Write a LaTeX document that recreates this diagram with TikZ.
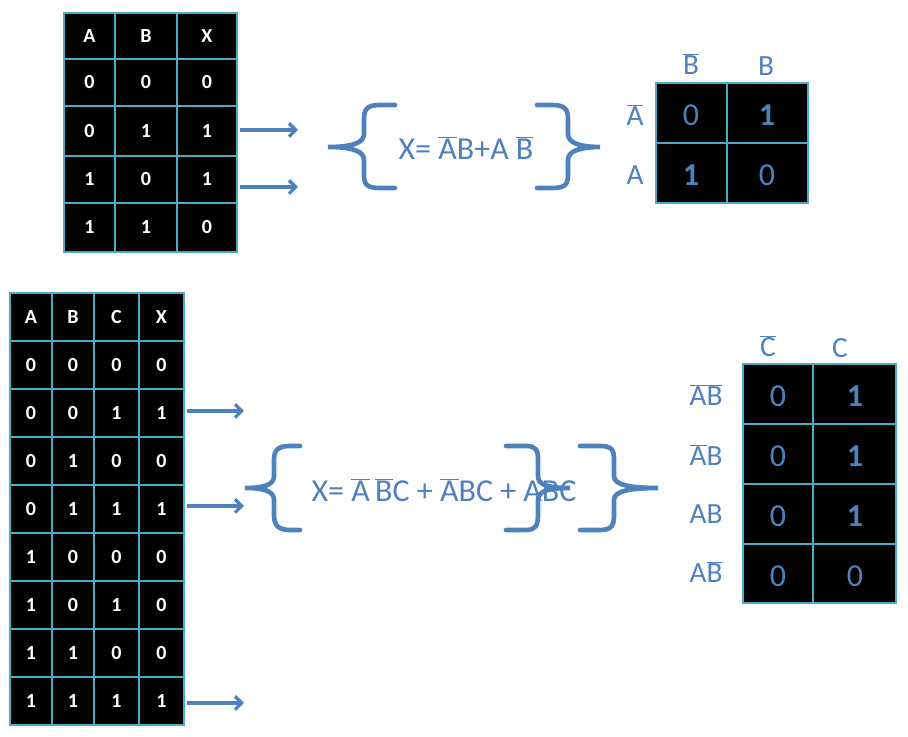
\documentclass[tikz,border=0pt]{standalone}
\usepackage{fontspec}
\setmainfont{Carlito}
\usetikzlibrary{arrows.meta}
\definecolor{bl}{HTML}{4F81BD}
\definecolor{tl}{HTML}{4BACC6}
\newcommand\ob[1]{\ensuremath{\overline{\mbox{#1}}}}
\begin{document}
\begin{tikzpicture}[x=0.75pt,y=-0.75pt,
  cell/.style={draw=tl,line width=1.5pt,fill=black},
  tt/.style={text=white,font=\bfseries\fontsize{15}{15}\selectfont},
  km/.style={text=bl,font=\fontsize{24}{24}\selectfont},
  kb/.style={text=bl,font=\bfseries\fontsize{24}{24}\selectfont},
  lab/.style={text=bl,font=\fontsize{22}{22}\selectfont},
  arr/.style={draw=bl,line width=2.5pt,-{Straight Barb[length=5pt,width=10pt]}},
  brace/.style={draw=bl,line width=3.5pt,line cap=round},
  form/.style={text=bl,font=\fontsize{24}{24}\selectfont}]
\useasboundingbox (0,0) rectangle (908,737);
% top truth table
\def\xs{{64,115,177,237}}
\def\ys{{13,59,106,156,203,252}}
\foreach \r/\a/\b/\c in {0/A/B/X,1/0/0/0,2/0/1/1,3/1/0/1,4/1/1/0}{
  \pgfmathsetmacro\ya{\ys[\r]}\pgfmathsetmacro\yb{\ys[\r+1]}
  \foreach \k/\t in {0/\a,1/\b,2/\c}{
    \pgfmathsetmacro\xa{\xs[\k]}\pgfmathsetmacro\xb{\xs[\k+1]}
    \draw[cell] (\xa,\ya) rectangle (\xb,\yb);
    \node[tt] (t1-\r-\k) at ({(\xa+\xb)/2},{(\ya+\yb)/2}) {\t};
  }}
\coordinate (a1s) at (240,130); \coordinate (a1e) at (298,130);
\coordinate (a2s) at (240,187); \coordinate (a2e) at (298,187);
\draw[arr] (a1s) -- (a1e); \draw[arr] (a2s) -- (a2e);
% top braces
\draw[brace] (395,105) -- (380,105) .. controls (366,105) and (364,110) .. (364,120) -- (364,134) .. controls (364,143) and (352,147) .. (328,147)
  .. controls (352,147) and (364,151) .. (364,160) -- (364,174) .. controls (364,184) and (366,188) .. (380,188) -- (395,188);
\draw[brace] (537,105) -- (552,105) .. controls (566,105) and (568,110) .. (568,120) -- (568,134) .. controls (568,143) and (580,147) .. (600,147)
  .. controls (580,147) and (568,151) .. (568,160) -- (568,174) .. controls (568,184) and (566,188) .. (552,188) -- (537,188);
\node[form] (f1) at (466,148) {X= \ob{A}B+A \ob{B}};
% top kmap
\foreach \i/\xa/\xb in {0/656/727,1/727/808}
  \foreach \j/\ya/\yb in {0/83/143,1/143/203}
    \draw[cell] (\xa,\ya) rectangle (\xb,\yb);
\node[km] (k00) at (691,115) {0}; \node[kb] (k01) at (767,115) {1};
\node[kb] (k10) at (691,175) {1}; \node[km] (k11) at (767,175) {0};
\node[lab] (c0) at (691,64) {\ob{B}}; \node[lab] (c1) at (766,66) {B};
\node[lab] (r0) at (635,115) {\ob{A}}; \node[lab] (r1) at (635,175) {A};
% bottom truth table
\def\xs{{10,52,94,139,184}}
\foreach \r/\a/\b/\c/\d in {0/A/B/C/X,1/0/0/0/0,2/0/0/1/1,3/0/1/0/0,4/0/1/1/1,5/1/0/0/0,6/1/0/1/0,7/1/1/0/0,8/1/1/1/1}{
  \pgfmathsetmacro\ya{293+48*\r}\pgfmathsetmacro\yb{341+48*\r}
  \foreach \k/\t in {0/\a,1/\b,2/\c,3/\d}{
    \pgfmathsetmacro\xa{\xs[\k]}\pgfmathsetmacro\xb{\xs[\k+1]}
    \draw[cell] (\xa,\ya) rectangle (\xb,\yb);
    \node[tt] (t2-\r-\k) at ({(\xa+\xb)/2},{(\ya+\yb)/2}) {\t};
  }}
\coordinate (b1s) at (187,411); \coordinate (b1e) at (244,411);
\coordinate (b2s) at (187,506); \coordinate (b2e) at (244,506);
\coordinate (b3s) at (187,703); \coordinate (b3e) at (244,703);
\draw[arr] (b1s) -- (b1e); \draw[arr] (b2s) -- (b2e); \draw[arr] (b3s) -- (b3e);
% bottom braces
\draw[brace] (300,446) -- (290,446) .. controls (278,446) and (274,450) .. (274,460) -- (274,476) .. controls (274,485) and (264,488) .. (245,488)
  .. controls (264,488) and (274,491) .. (274,500) -- (274,515) .. controls (274,525) and (278,530) .. (290,530) -- (300,530);
\draw[brace] (506,446) -- (526,446) .. controls (536,446) and (538,450) .. (538,460) -- (538,476) .. controls (538,485) and (548,488) .. (570,488)
  .. controls (548,488) and (538,491) .. (538,500) -- (538,515) .. controls (538,525) and (536,530) .. (526,530) -- (506,530);
\draw[brace] (580,446) -- (600,446) .. controls (612,446) and (614,450) .. (614,460) -- (614,476) .. controls (614,485) and (630,488) .. (658,488)
  .. controls (630,488) and (614,491) .. (614,500) -- (614,515) .. controls (614,525) and (612,530) .. (600,530) -- (580,530);
\node[form] (f2) at (444,490) {X= \ob{A}\,\ob{B}C + \ob{A}BC + ABC};
% bottom kmap
\foreach \xa/\xb in {743/813,813/896}
  \foreach \ya/\yb in {364/424,424/484,484/544,544/603}
    \draw[cell] (\xa,\ya) rectangle (\xb,\yb);
\node[km] (m00) at (778,396) {0}; \node[kb] (m01) at (855,396) {1};
\node[km] (m10) at (778,456) {0}; \node[kb] (m11) at (855,456) {1};
\node[km] (m20) at (778,516) {0}; \node[kb] (m21) at (855,516) {1};
\node[km] (m30) at (778,576) {0}; \node[km] (m31) at (855,576) {0};
\node[lab] (d0) at (768,346) {\ob{C}}; \node[lab] (d1) at (840,348) {C};
\node[lab] (s0) at (706,395) {\ob{A}\ob{B}};
\node[lab] (s1) at (706,455) {\ob{A}B};
\node[lab] (s2) at (706,514) {AB};
\node[lab] (s3) at (706,572) {A\ob{B}};
\end{tikzpicture}
\end{document}
